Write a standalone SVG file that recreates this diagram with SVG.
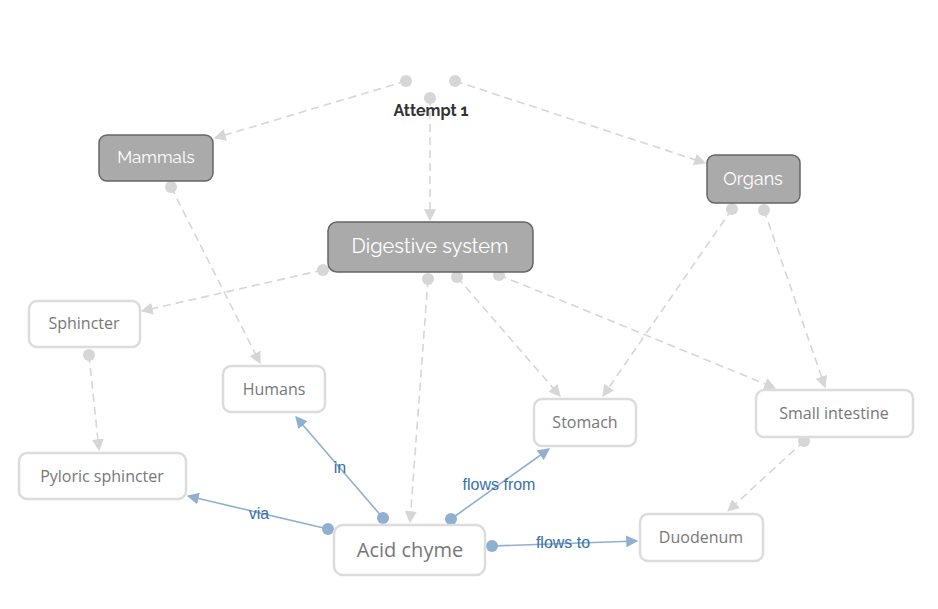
<svg xmlns="http://www.w3.org/2000/svg" width="938" height="609" viewBox="0 0 938 609">
<defs>
<marker id="ga" viewBox="0 0 10 10" refX="9" refY="5" markerWidth="12" markerHeight="12" markerUnits="userSpaceOnUse" orient="auto"><path d="M0,0L10,5L0,10z" fill="#d6d6d6"/></marker>
<marker id="ba" viewBox="0 0 10 10" refX="9" refY="5" markerWidth="12" markerHeight="12" markerUnits="userSpaceOnUse" orient="auto"><path d="M0,0L10,5L0,10z" fill="#8fb0d0"/></marker>
</defs>
<style>
.d{stroke:#d6d6d6;stroke-width:1.6;stroke-dasharray:8 5;fill:none;marker-end:url(#ga)}
.gd{fill:#d6d6d6}
.b{stroke:#8fb0d0;stroke-width:1.6;fill:none;marker-end:url(#ba)}
.bd{fill:#8fb0d0}
.lbl{font-family:"Liberation Sans",Arial,sans-serif;font-size:16px;fill:#3a6fa8;text-anchor:middle}
.dark rect{fill:#aaaaaa;stroke:#666;stroke-width:1.5}
.dark text{fill:#fff;font-family:Raleway,"Open Sans","Liberation Sans",sans-serif;text-anchor:middle}
.lite rect{fill:#fff;stroke:#dcdcdc;stroke-width:2.5}
.lite text{fill:#777;font-family:"Open Sans","Liberation Sans",sans-serif;text-anchor:middle}
</style>
<rect width="938" height="609" fill="#fff"/>
<g id="connectors">
<path class="d" d="M406,81L215,138"/><circle class="gd" cx="406" cy="81" r="6"/>
<path class="d" d="M430,98L430,220"/><circle class="gd" cx="430" cy="98" r="6"/>
<path class="d" d="M455,81L705,163"/><circle class="gd" cx="455" cy="81" r="6"/>
<path class="d" d="M171,187L260,363"/><circle class="gd" cx="171" cy="187" r="6"/>
<path class="d" d="M323,270L142,311"/><circle class="gd" cx="323" cy="270" r="6"/>
<path class="d" d="M428,279L410,522"/><circle class="gd" cx="428" cy="279" r="6"/>
<path class="d" d="M457,277L560,396"/><circle class="gd" cx="457" cy="277" r="6"/>
<path class="d" d="M499,275L775,388"/><circle class="gd" cx="499" cy="275" r="6"/>
<path class="d" d="M732,209L603,396"/><circle class="gd" cx="732" cy="209" r="6"/>
<path class="d" d="M764,210L825,387"/><circle class="gd" cx="764" cy="210" r="6"/>
<path class="d" d="M89,355L99,450"/><circle class="gd" cx="89" cy="355" r="6"/>
<path class="d" d="M804,441L728,511"/><circle class="gd" cx="804" cy="441" r="6"/>
<path class="b" d="M328,529L188,496"/><circle class="bd" cx="328" cy="529" r="6"/>
<path class="b" d="M383,518L296,417"/><circle class="bd" cx="383" cy="518" r="6"/>
<path class="b" d="M451,519L549,449"/><circle class="bd" cx="451" cy="519" r="6"/>
<path class="b" d="M492,546L637,541"/><circle class="bd" cx="492" cy="546" r="6"/>
<text class="lbl" x="259" y="519">via</text>
<text class="lbl" x="340" y="473">in</text>
<text class="lbl" x="499" y="490">flows from</text>
<text class="lbl" x="563" y="548">flows to</text>
</g>
<text x="431" y="116" font-family="Raleway,'Open Sans','Liberation Sans',sans-serif" font-size="16" font-weight="bold" fill="#333" text-anchor="middle">Attempt 1</text>
<g id="mammals" class="dark"><rect x="99" y="135" width="114" height="46" rx="8"/><text x="156" y="163" font-size="17">Mammals</text></g>
<g id="organs" class="dark"><rect x="707" y="155" width="93" height="48" rx="8"/><text x="753" y="185" font-size="18">Organs</text></g>
<g id="digestive" class="dark"><rect x="328" y="222" width="205" height="50" rx="9"/><text x="430" y="253" font-size="20">Digestive system</text></g>
<g id="sphincter" class="lite"><rect x="29" y="301" width="111" height="46" rx="8"/><text x="84" y="329" font-size="16">Sphincter</text></g>
<g id="humans" class="lite"><rect x="223" y="366" width="102" height="46" rx="8"/><text x="274" y="395" font-size="16">Humans</text></g>
<g id="stomach" class="lite"><rect x="534" y="399" width="102" height="47" rx="8"/><text x="585" y="428" font-size="16">Stomach</text></g>
<g id="small-intestine" class="lite"><rect x="756" y="390" width="157" height="47" rx="8"/><text x="834" y="419" font-size="16">Small intestine</text></g>
<g id="pyloric" class="lite"><rect x="19" y="453" width="167" height="46" rx="8"/><text x="102" y="482" font-size="16">Pyloric sphincter</text></g>
<g id="acid-chyme" class="lite"><rect x="334" y="525" width="151" height="50" rx="9"/><text x="410" y="557" font-size="20">Acid chyme</text></g>
<g id="duodenum" class="lite"><rect x="640" y="514" width="123" height="47" rx="8"/><text x="701" y="543" font-size="16">Duodenum</text></g>
</svg>
